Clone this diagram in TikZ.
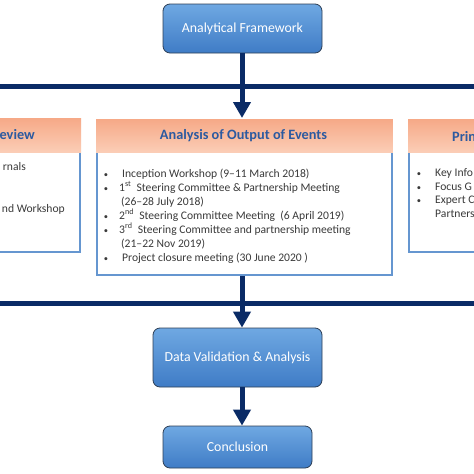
\documentclass[tikz,border=0pt]{standalone}
\usepackage{fontspec}
\setmainfont{Carlito}
\usetikzlibrary{arrows.meta,shadings}
\definecolor{navy}{HTML}{0A2B66}
\definecolor{blueT}{HTML}{6FA8E2}
\definecolor{blueB}{HTML}{3F7CC6}
\definecolor{boxedge}{HTML}{2E3F55}
\definecolor{peachT}{HTML}{F6A987}
\definecolor{peachB}{HTML}{FBCDB6}
\definecolor{headblue}{HTML}{2C5AA0}
\definecolor{bodyblue}{HTML}{6596D0}
\definecolor{txt}{HTML}{3A3A3A}
\begin{document}
\begin{tikzpicture}[x=1pt,y=-1pt,
  bluebox/.style={draw=boxedge, line width=0.8pt, rounded corners=7pt,
    top color=blueT, bottom color=blueB, text=white, inner sep=0pt,
    font=\fontsize{13.8}{15}\selectfont},
  headbox/.style={draw=none, top color=peachT, bottom color=peachB, inner sep=0pt},
  headtext/.style={text=headblue, font=\bfseries\fontsize{14.3}{16}\selectfont, inner sep=0pt},
  bodybox/.style={draw=bodyblue, line width=1.6pt, fill=white, inner sep=0pt},
  itemtext/.style={text=txt, font=\fontsize{11.6}{13}\selectfont, inner sep=0pt, anchor=base west},
  bul/.style={text=txt, font=\fontsize{8.5}{10}\selectfont, inner sep=0pt, anchor=base},
  bus/.style={navy, line width=5pt},
  flow/.style={navy, line width=5pt, -{Triangle[width=17pt,length=16pt]}}
]
\useasboundingbox (0,0) rectangle (474,474);
\clip (0,0) rectangle (474,474);
\fill[white] (0,0) rectangle (474,474);

% bus coordinates
\coordinate (busAL) at (0,86);
\coordinate (busAR) at (474,86);
\coordinate (busBL) at (0,303);
\coordinate (busBR) at (474,303);
\draw[bus] (busAL) -- (busAR);
\draw[bus] (busBL) -- (busBR);

% top box
\node[bluebox, minimum width=159pt, minimum height=49pt] (af) at (242.5,28.5) {Analytical Framework};

% left box
\node[bodybox, minimum width=190pt, minimum height=100pt] (lbody) at (-15,202) {};
\node[headbox, minimum width=192pt, minimum height=34pt] (lhead) at (-15,135) {};
\node[headtext, anchor=east] (lht) at (35,135) {eview};
\node[itemtext, anchor=base east] (li1) at (26,170) {rnals};
\node[itemtext, anchor=base east] (li2) at (65,212) {nd Workshop};

% middle box
\node[bodybox, minimum width=295pt, minimum height=123pt] (mbody) at (244.5,213.5) {};
\node[headbox, minimum width=296.6pt, minimum height=33pt] (mhead) at (244.5,135.5) {};
\node[headtext] (mht) at (243.5,136) {Analysis of Output of Events};

\node[bul] (mb1) at (106,177) {•};
\node[bul] (mb2) at (106,191) {•};
\node[bul] (mb3) at (106,219) {•};
\node[bul] (mb4) at (106,233) {•};
\node[bul] (mb5) at (106,261) {•};
\node[itemtext] (m1) at (122,177) {Inception Workshop (9–11 March 2018)};
\node[itemtext] (m2) at (119,191) {1\textsuperscript{st}\ \ Steering Committee \& Partnership Meeting};
\node[itemtext] (m3) at (121,205) {(26–28 July 2018)};
\node[itemtext] (m4) at (119,219) {2\textsuperscript{nd}\ \ Steering Committee Meeting \ (6 April 2019)};
\node[itemtext] (m5) at (119,233) {3\textsuperscript{rd}\ \ Steering Committee and partnership meeting};
\node[itemtext] (m6) at (121,247) {(21–22 Nov 2019)};
\node[itemtext] (m7) at (122,261) {Project closure meeting (30 June 2020 )};

% right box
\node[bodybox, minimum width=190pt, minimum height=100pt] (rbody) at (504,202) {};
\node[headbox, minimum width=192pt, minimum height=33pt] (rhead) at (504,135.5) {};
\node[headtext, anchor=west] (rht) at (452,136) {Prin};
\node[bul] (rb1) at (419,176) {•};
\node[bul] (rb2) at (419,190) {•};
\node[bul] (rb3) at (419,203) {•};
\node[itemtext] (r1) at (435,176) {Key Info};
\node[itemtext] (r2) at (435,190) {Focus G};
\node[itemtext] (r3) at (435,203) {Expert C};
\node[itemtext] (r4) at (435,217) {Partners};

% lower boxes
\node[bluebox, minimum width=169pt, minimum height=59pt] (dva) at (237.5,357.5) {Data Validation \& Analysis};
\node[bluebox, minimum width=149pt, minimum height=42pt] (conc) at (237.5,447) {Conclusion};

% connectors
\draw[flow] (af.south -| 242,0) -- (242,118);
\draw[navy, line width=5pt] (mbody.south -| 242,0) -- (242,310);
\draw[flow] (242,300) -- (dva.north -| 242,0);
\draw[flow] (dva.south -| 242,0) -- (conc.north -| 242,0);
\end{tikzpicture}
\end{document}
